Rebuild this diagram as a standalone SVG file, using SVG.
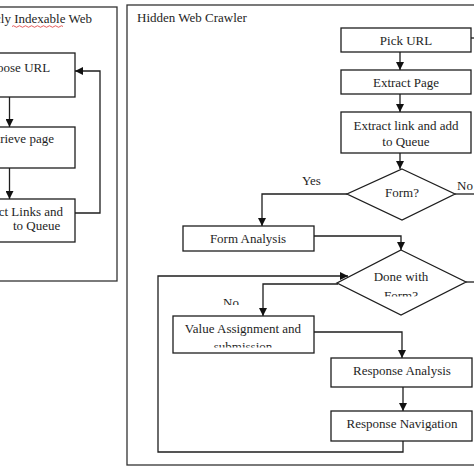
<svg xmlns="http://www.w3.org/2000/svg" width="474" height="474" viewBox="0 0 474 474">
<style>
  .box{fill:#fff;stroke:#1e1e1e;stroke-width:1.3}
  .panel{fill:none;stroke:#333;stroke-width:1.3}
  .ln{fill:none;stroke:#1e1e1e;stroke-width:1.3}
  .arr{marker-end:url(#ah)}
  text{font-family:"Liberation Serif","Times New Roman",serif;font-size:13px;fill:#1e1e1e}
  .c{text-anchor:middle}
</style>
<defs>
  <marker id="ah" viewBox="0 0 10 10" refX="10" refY="5" markerWidth="8" markerHeight="8" orient="auto" markerUnits="userSpaceOnUse">
    <path d="M0,0 L10,5 L0,10 z" fill="#111"/>
  </marker>
  <clipPath id="clipDone"><rect x="330" y="240" width="144" height="56.5"/></clipPath>
  <clipPath id="clipVal"><rect x="170" y="310" width="150" height="37.5"/></clipPath>
  <clipPath id="clipNo2"><rect x="200" y="290" width="60" height="15"/></clipPath>
  <clipPath id="clipYes2"><rect x="460" y="250" width="20" height="11.5"/></clipPath>
</defs>
<rect width="474" height="474" fill="#fff"/>

<g id="panel-left">
  <rect class="panel" x="-10" y="7" width="127" height="274"/>
  <text x="92" y="23" text-anchor="end">Publicly Indexable Web</text>
  <path d="M12,26.5 q1.5,-1.5 3,0 t3,0 t3,0 t3,0 t3,0 t3,0 t3,0 t3,0 t3,0 t3,0 t3,0 t3,0 t3,0 t3,0 t3,0 t3,0 t3,0" fill="none" stroke="#d33" stroke-width="0.8"/>
</g>
<g id="panel-right">
  <rect class="panel" x="127" y="5" width="360" height="460"/>
  <text x="137" y="22">Hidden Web Crawler</text>
</g>

<g id="connectors">
  <path class="ln arr" d="M9.5,97 V127"/>
  <path class="ln arr" d="M9.5,168 V199"/>
  <path class="ln arr" d="M75,213 H100 V71 H75"/>

  <path class="ln arr" d="M400,52 V70"/>
  <path class="ln arr" d="M400,94 V112"/>
  <path class="ln arr" d="M400,153 V169"/>
  <path class="ln arr" d="M347,194 H262 V226"/>
  <path class="ln" d="M455,194 H480"/>
  <path class="ln" d="M471,38 H480"/>
  <path class="ln arr" d="M314,236 H401 V250"/>
  <path class="ln arr" d="M338,284 H263 V316"/>
  <path class="ln" d="M466,282 H480"/>
  <path class="ln arr" d="M403,441 V452 H158 V276 H348"/>
  <path class="ln arr" d="M314,332 H402 V358"/>
  <path class="ln arr" d="M403,387 V411"/>

  <text x="302" y="185">Yes</text>
  <text x="457" y="190">No</text>
  <text x="223" y="307" clip-path="url(#clipNo2)">No</text>
  <text x="465" y="270" clip-path="url(#clipYes2)">Yes</text>
</g>

<g id="choose-url">
  <rect class="box" x="-45" y="53" width="120" height="44"/>
  <text class="c" x="16" y="72">Choose URL</text>
</g>
<g id="retrieve-page">
  <rect class="box" x="-45" y="127" width="120" height="41"/>
  <text class="c" x="18" y="143">Retrieve page</text>
</g>
<g id="extract-links">
  <rect class="box" x="-45" y="199" width="120" height="43"/>
  <text x="63" y="216" text-anchor="end">Extract Links and</text>
  <text x="13" y="230">to Queue</text>
</g>

<g id="pick-url">
  <rect class="box" x="341" y="28" width="130" height="24"/>
  <text class="c" x="406" y="45">Pick URL</text>
</g>
<g id="extract-page">
  <rect class="box" x="341" y="70" width="130" height="24"/>
  <text class="c" x="406" y="87">Extract Page</text>
</g>
<g id="extract-link">
  <rect class="box" x="341" y="112" width="130" height="41"/>
  <text class="c" x="406" y="130">Extract link and add</text>
  <text class="c" x="406" y="146">to Queue</text>
</g>
<g id="form-decision">
  <polygon class="box" points="402,169 455,194 402,220 347,194"/>
  <text class="c" x="402" y="197">Form?</text>
</g>
<g id="form-analysis">
  <rect class="box" x="183" y="226" width="131" height="25"/>
  <text class="c" x="248" y="243">Form Analysis</text>
</g>
<g id="done-decision">
  <polygon class="box" points="401,250 466,282 401,315 337,283"/>
  <text class="c" x="401" y="281">Done with</text>
  <text class="c" x="401" y="300" clip-path="url(#clipDone)">Form?</text>
</g>
<g id="value-assignment">
  <rect class="box" x="173" y="316" width="141" height="37"/>
  <text class="c" x="243" y="333">Value Assignment and</text>
  <text class="c" x="243" y="351" clip-path="url(#clipVal)">submission</text>
</g>
<g id="response-analysis">
  <rect class="box" x="331" y="358" width="141" height="29"/>
  <text class="c" x="402" y="375">Response Analysis</text>
</g>
<g id="response-navigation">
  <rect class="box" x="331" y="411" width="141" height="30"/>
  <text class="c" x="402" y="428">Response Navigation</text>
</g>
</svg>
